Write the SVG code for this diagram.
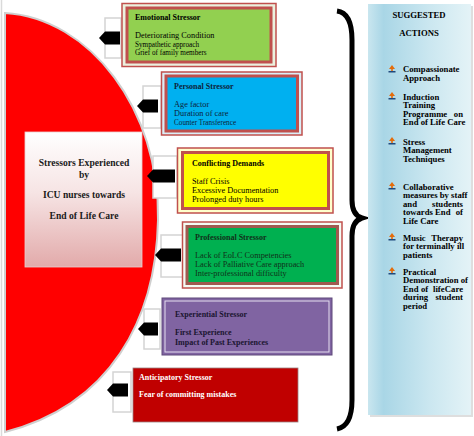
<svg xmlns="http://www.w3.org/2000/svg" width="474" height="436" viewBox="0 0 474 436">
<style>
text{font-family:"Liberation Serif","Times New Roman",serif;fill:#000}
.h{font-weight:bold;font-size:8px}
.t{font-size:8.3px}
.s{font-size:7.2px}
.c{font-weight:bold;font-size:9.6px;text-anchor:middle;fill:#1a1a1a}
.a{font-weight:bold;font-size:8.7px}
.ae{font-weight:bold;font-size:8.7px;text-anchor:end}
.ah{font-weight:bold;font-size:8.7px;text-anchor:middle}
.arr{fill:#000}
.sh{fill:#fff;stroke:#d4d4d4;stroke-width:1.5}
</style>
<defs>
<linearGradient id="pink" x1="0" y1="0" x2="0" y2="1">
<stop offset="0" stop-color="#ffffff"/>
<stop offset="0.45" stop-color="#f6e4e4"/>
<stop offset="1" stop-color="#e2aaaa"/>
</linearGradient>
<linearGradient id="blue" x1="0" y1="0" x2="1" y2="0">
<stop offset="0" stop-color="#c9e6ef"/>
<stop offset="0.15" stop-color="#a9d6e6"/>
<stop offset="0.6" stop-color="#cbe7f0"/>
<stop offset="1" stop-color="#e4f3f7"/>
</linearGradient>
<g id="bul">
<polygon points="-3,-1 0,-5 3,-1" fill="#e46c0a"/>
<rect x="-0.8" y="-2" width="1.6" height="3" fill="#e46c0a"/>
<rect x="-3.5" y="1" width="7" height="1.5" fill="#1f497d"/>
</g>
</defs>
<rect width="474" height="436" fill="#fff"/>
<line x1="1.5" y1="0" x2="1.5" y2="436" stroke="#dadada" stroke-width="1.5"/>

<g id="center">
<path d="M5,13 C90,18 160,110 158,220 C156,320 110,405 5,432 Z" fill="#ff0000" stroke="#cfcfcf" stroke-width="2"/>
<rect x="25" y="132" width="117" height="135" fill="url(#pink)" stroke="#e8d0d0" stroke-width="0.8"/>
<text class="c" x="84" y="165.5">Stressors Experienced</text>
<text class="c" x="84" y="178">by</text>
<text class="c" x="84" y="198">ICU nurses towards</text>
<text class="c" x="84" y="218.5">End of Life Care</text>
</g>

<g id="connectors">
<rect class="sh" x="105" y="18" width="16" height="40"/>
<polygon class="arr" points="99,38 105,31.5 120,31.5 120,44.5 105,44.5"/>
<rect class="sh" x="143" y="86" width="18" height="42"/>
<polygon class="arr" points="137,106 143,99.5 158,99.5 158,112.5 143,112.5"/>
<rect class="sh" x="153" y="156" width="24" height="42"/>
<polygon class="arr" points="147,176 153,169.5 175,169.5 175,182.5 153,182.5"/>
<rect class="sh" x="161" y="235" width="22" height="42"/>
<polygon class="arr" points="155,255 161,248.5 181,248.5 181,261.5 161,261.5"/>
<rect class="sh" x="144" y="309" width="16" height="40"/>
<polygon class="arr" points="138,329 144,322.5 158,322.5 158,335.5 144,335.5"/>
<rect class="sh" x="113" y="372" width="18" height="40"/>
<polygon class="arr" points="107,390 113,383.5 128,383.5 128,396.5 113,396.5"/>
<path d="M337,11 Q352,13 352,40 L352,200 Q352,215 362,218 Q352,221 352,236 L352,400 Q352,426 337,429" fill="none" stroke="#000" stroke-width="5"/>
</g>

<g id="emotional">
<rect x="122" y="3.5" width="154" height="63" fill="#ebf1de" stroke="#c0504d" stroke-width="1.5"/>
<rect x="127" y="8" width="144" height="54" fill="#92d050" stroke="#c0504d" stroke-width="3"/>
<text class="h" x="135" y="19.5">Emotional Stressor</text>
<text class="t" x="135" y="38">Deteriorating Condition</text>
<text class="s" x="135" y="46.5">Sympathetic approach</text>
<text class="s" x="135" y="55">Grief of family members</text>
</g>

<g id="personal">
<rect x="161.5" y="72" width="140.5" height="63" fill="#dbeef7" stroke="#c0504d" stroke-width="1.5"/>
<rect x="166" y="76" width="131.5" height="55" fill="#00b0f0" stroke="#c0504d" stroke-width="3"/>
<text class="h" x="174" y="88.5" style="fill:#0d1f3a">Personal Stressor</text>
<text class="t" x="174" y="107" style="fill:#0d1f3a">Age factor</text>
<text class="t" x="174" y="116" style="fill:#0d1f3a">Duration of care</text>
<text class="s" x="174" y="125" style="fill:#0d1f3a">Counter Transference</text>
</g>

<g id="conflicting">
<rect x="177.5" y="148" width="155.5" height="65" fill="#ffffcc" stroke="#c0504d" stroke-width="1.5"/>
<rect x="182.5" y="152.5" width="146" height="56" fill="#ffff00" stroke="#c0504d" stroke-width="3"/>
<text class="h" x="192" y="166">Conflicting Demands</text>
<text class="t" x="192" y="184">Staff Crisis</text>
<text class="t" x="192" y="193">Excessive Documentation</text>
<text class="t" x="192" y="202">Prolonged duty hours</text>
</g>

<g id="professional">
<rect x="182.5" y="222" width="159.5" height="66" fill="#f4fbf4" stroke="#c0504d" stroke-width="1.5"/>
<rect x="187" y="226.5" width="150.5" height="57" fill="#00b050" stroke="#a05a50" stroke-width="3"/>
<text class="h" x="195" y="239.5" style="fill:#10301a">Professional Stressor</text>
<text class="t" x="195" y="258" style="fill:#10301a">Lack of EoLC Competencies</text>
<text class="t" x="195" y="267" style="fill:#10301a">Lack of Palliative Care approach</text>
<text class="t" x="195" y="276" style="fill:#10301a">Inter-professional difficulty</text>
</g>

<g id="experiential">
<rect x="162" y="298" width="170" height="57" fill="#8064a2" stroke="#5f497a" stroke-width="1"/>
<rect x="165" y="301" width="164" height="51" fill="none" stroke="#e6dff0" stroke-width="1"/>
<text class="h" x="175" y="317" style="fill:#1a1530">Experiential Stressor</text>
<text class="h" x="175" y="334.5" style="fill:#1a1530">First Experience</text>
<text class="h" x="175" y="344.5" style="fill:#1a1530">Impact of Past Experiences</text>
</g>

<g id="anticipatory">
<rect x="133" y="368" width="165" height="54" fill="#c00000" stroke="#9a8080" stroke-width="0.8"/>
<text class="h" x="139" y="379.5" style="fill:#fff">Anticipatory Stressor</text>
<text class="h" x="139" y="397" style="fill:#fff">Fear of committing mistakes</text>
</g>

<g id="actions">
<rect x="370" y="6" width="103" height="411" fill="#c8c8c8" opacity="0.6"/>
<rect x="368" y="4" width="103" height="411" fill="url(#blue)"/>
<text class="ah" x="419" y="18">SUGGESTED</text>
<text class="ah" x="419" y="36">ACTIONS</text>
<use href="#bul" x="392" y="70"/>
<text class="a" x="403" y="72">Compassionate</text>
<text class="a" x="403" y="81">Approach</text>
<use href="#bul" x="392" y="97"/>
<text class="a" x="403" y="99.5">Induction</text>
<text class="a" x="403" y="108">Training</text>
<text class="a" x="403" y="116.5">Programme</text><text class="ae" x="463" y="116.5">on</text>
<text class="a" x="403" y="125">End of Life Care</text>
<use href="#bul" x="392" y="142"/>
<text class="a" x="403" y="144.5">Stress</text>
<text class="a" x="403" y="153">Management</text>
<text class="a" x="403" y="161.5">Techniques</text>
<use href="#bul" x="392" y="187"/>
<text class="a" x="403" y="189.5">Collaborative</text>
<text class="a" x="403" y="198">measures by staff</text>
<text class="a" x="403" y="206.5">and</text><text class="ae" x="463" y="206.5">students</text>
<text class="a" x="403" y="215">towards</text><text class="a" x="435" y="215">End</text><text class="ae" x="463" y="215">of</text>
<text class="a" x="403" y="223.5">Life Care</text>
<use href="#bul" x="392" y="238"/>
<text class="a" x="403" y="240.5">Music</text><text class="ae" x="463" y="240.5">Therapy</text>
<text class="a" x="403" y="249">for terminally ill</text>
<text class="a" x="403" y="257.5">patients</text>
<use href="#bul" x="392" y="272"/>
<text class="a" x="403" y="274.5">Practical</text>
<text class="a" x="403" y="283">Demonstration of</text>
<text class="a" x="403" y="291.5">End</text><text class="a" x="421" y="291.5">of</text><text class="a" x="433" y="291.5">life</text><text class="ae" x="463" y="291.5">Care</text>
<text class="a" x="403" y="300">during</text><text class="ae" x="463" y="300">student</text>
<text class="a" x="403" y="308.5">period</text>
</g>
</svg>
